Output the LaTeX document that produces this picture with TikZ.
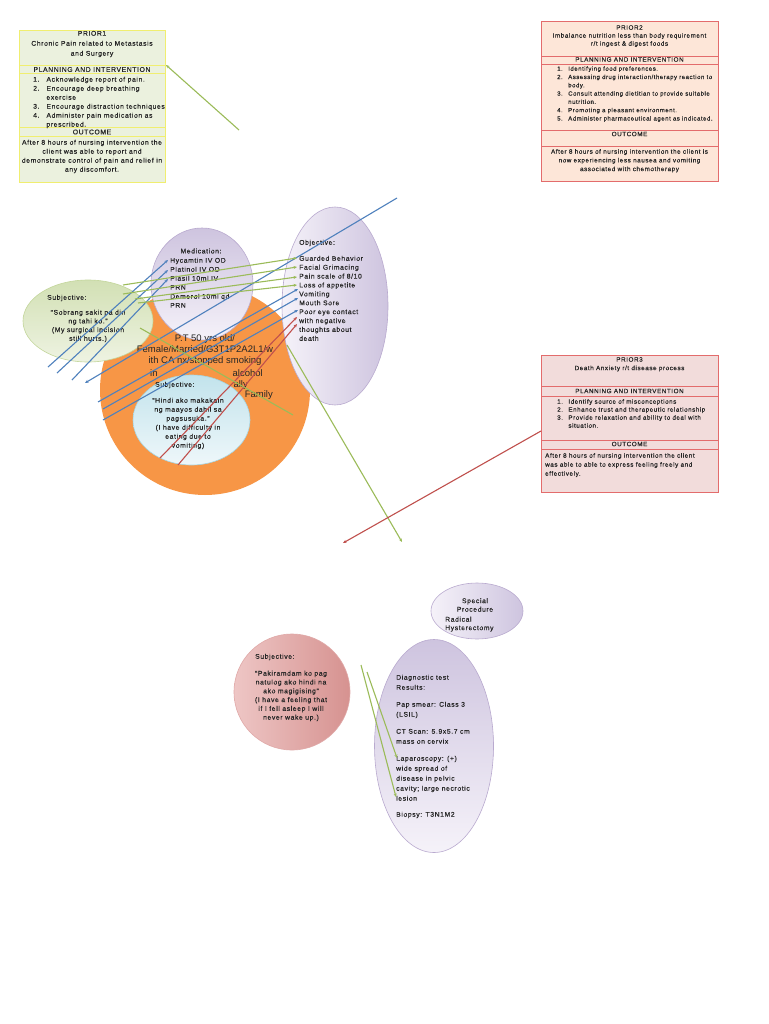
\documentclass[tikz,border=0pt]{standalone}
\usepackage{fontspec}
\setmainfont[LetterSpace=9, FakeBold=0.4]{Liberation Sans}
\newfontfamily\corefont{Liberation Sans}
\usetikzlibrary{shapes.geometric,arrows.meta}
\definecolor{txt}{HTML}{262626}
\definecolor{pOneFill}{HTML}{EBF1DE}
\definecolor{pOneLine}{HTML}{F0EE70}
\definecolor{pTwoFill}{HTML}{FDE6D8}
\definecolor{pThreeFill}{HTML}{F2DCDB}
\definecolor{redLine}{HTML}{E36C6C}
\definecolor{orangeF}{HTML}{F79646}
\definecolor{lavA}{HTML}{F5F2F9}
\definecolor{lavB}{HTML}{CEC4DF}
\definecolor{lavEdge}{HTML}{B9AACF}
\definecolor{grnA}{HTML}{D2E0B4}
\definecolor{grnB}{HTML}{EEF3E2}
\definecolor{grnEdge}{HTML}{C3D69B}
\definecolor{bluA}{HTML}{C2E3EC}
\definecolor{bluB}{HTML}{EEF7FA}
\definecolor{bluEdge}{HTML}{A5D5E2}
\definecolor{pnkA}{HTML}{EEC6C5}
\definecolor{pnkB}{HTML}{D69290}
\definecolor{pnkEdge}{HTML}{E0A9A8}
\definecolor{cBlue}{HTML}{4F81BD}
\definecolor{cGreen}{HTML}{9BBB59}
\definecolor{cRed}{HTML}{C0504D}
\newcommand\tabC[1]{\begin{tabular}{@{}c@{}}#1\end{tabular}}
\newcommand\tabL[1]{\begin{tabular}{@{}l@{}}#1\end{tabular}}
\begin{document}
\begin{tikzpicture}[x=1pt,y=-1pt,
  tx/.style={inner sep=0pt, text=txt},
  fa/.style={font=\fontsize{6.8}{9}\selectfont},
  fb/.style={font=\fontsize{6.3}{8.3}\selectfont},
  boxone/.style={anchor=north west, inner sep=0pt, fill=pOneFill, draw=pOneLine, line width=0.9pt},
  boxtwo/.style={anchor=north west, inner sep=0pt, fill=pTwoFill, draw=redLine, line width=0.9pt},
  boxthree/.style={anchor=north west, inner sep=0pt, fill=pThreeFill, draw=redLine, line width=0.9pt},
  lav/.style={ellipse, inner sep=0pt, top color=lavB, bottom color=lavA, draw=lavEdge, line width=0.6pt},
  lavh/.style={ellipse, inner sep=0pt, left color=lavA, right color=lavB, draw=lavEdge, line width=0.6pt},
  conB/.style={draw=cBlue, line width=1.1pt},
  conG/.style={draw=cGreen, line width=1.1pt},
  conR/.style={draw=cRed, line width=1.1pt},
  arr/.style={-{Stealth[length=3.5pt,width=3pt]}},
]
\fill[white] (0,0) rectangle (768,1024);
\useasboundingbox (0,0) rectangle (768,1024);

% ---------------- PRIOR1 ----------------
\node[boxone, minimum width=146, minimum height=152] (p1) at (19,30) {};
\foreach \yy in {65,73,127,136} \draw[pOneLine, line width=0.9pt] (19,\yy) -- (165,\yy);
\node[tx, anchor=north, font=\fontsize{6.8}{10}\selectfont] (p1head) at (92,28.5) {\tabC{PRIOR1\\Chronic Pain related to Metastasis\\and Surgery}};
\node[tx, fa] (p1plan) at (92,69.5) {PLANNING AND INTERVENTION};
\node[tx, fa, anchor=north west] (p1list) at (33,75.2) {\begin{tabular}{@{}l@{\hspace{7pt}}l@{}}
1.&Acknowledge report of pain.\\
2.&Encourage deep breathing\\
&exercise\\
3.&Encourage distraction techniques\\
4.&Administer pain medication as\\
&prescribed.\end{tabular}};
\node[tx, fa] (p1out) at (92,132) {OUTCOME};
\node[tx, fa, anchor=north] (p1outtxt) at (92,138.2) {\tabC{After 8 hours of nursing intervention the\\client was able to report and\\demonstrate control of pain and relief in\\any discomfort.}};

% ---------------- PRIOR2 ----------------
\node[boxtwo, minimum width=177, minimum height=160] (p2) at (541,21) {};
\foreach \yy in {56,64,130,146} \draw[redLine, line width=0.9pt] (541,\yy) -- (718,\yy);
\node[tx, anchor=north, font=\fontsize{6.3}{8}\selectfont] (p2head) at (629.5,23.9) {\tabC{PRIOR2\\Imbalance nutrition less than body requirement\\r/t ingest \& digest foods}};
\node[tx, fb] (p2plan) at (629.5,59.5) {PLANNING AND INTERVENTION};
\node[tx, anchor=north west, font=\fontsize{6.0}{8.3}\selectfont] (p2list) at (557,64.7) {\begin{tabular}{@{}l@{\hspace{5.5pt}}l@{}}
1.&Identifying food preferences.\\
2.&Assessing drug interaction/therapy reaction to\\
&body.\\
3.&Consult attending dietitian to provide suitable\\
&nutrition.\\
4.&Promoting a pleasant environment.\\
5.&Administer pharmaceutical agent as indicated.\end{tabular}};
\node[tx, fb] (p2out) at (629.5,134) {OUTCOME};
\node[tx, anchor=north, font=\fontsize{6.3}{8.7}\selectfont] (p2outtxt) at (629.5,147.4) {\tabC{After 8 hours of nursing intervention the client is\\now experiencing less nausea and vomiting\\associated with chemotherapy}};

% ---------------- PRIOR3 ----------------
\node[boxthree, minimum width=177, minimum height=137] (p3) at (541,355) {};
\foreach \yy in {386,396,440,449} \draw[redLine, line width=0.9pt] (541,\yy) -- (718,\yy);
\node[tx, anchor=north, font=\fontsize{6.3}{8.5}\selectfont] (p3head) at (629.5,355.5) {\tabC{PRIOR3\\Death Anxiety r/t disease process}};
\node[tx, fb] (p3plan) at (629.5,391) {PLANNING AND INTERVENTION};
\node[tx, anchor=north west, font=\fontsize{6.2}{8}\selectfont] (p3list) at (557,397.9) {\begin{tabular}{@{}l@{\hspace{5.5pt}}l@{}}
1.&Identify source of misconceptions\\
2.&Enhance trust and therapeutic relationship\\
3.&Provide relaxation and ability to deal with\\
&situation.\end{tabular}};
\node[tx, fb] (p3out) at (629.5,444) {OUTCOME};
\node[tx, anchor=north west, font=\fontsize{6.3}{9}\selectfont] (p3outtxt) at (545,451.2) {\tabL{After 8 hours of nursing intervention the client\\was able to able to express feeling freely and\\effectively.}};

% ---------------- central cluster ----------------
\node[circle, fill=orangeF, minimum size=210, inner sep=0pt] (core) at (205,390) {};
\node[lav, minimum width=102, minimum height=112] (med) at (202,284) {};
\node[lavh, minimum width=106, minimum height=198] (obj) at (335,306) {};
\node[ellipse, inner sep=0pt, top color=grnA, bottom color=grnB, draw=grnEdge, line width=0.6pt, minimum width=130, minimum height=82] (subA) at (88,321) {};

\node[tx, anchor=north, font=\corefont\fontsize{9.5}{11.3}\selectfont] (coretxt) at (205,333) {\tabC{P.T 50 yrs old/\\Female/Married/G3T1P2A2L1/w\\ith CA nx/stopped smoking}};
\node[tx, anchor=base west, font=\corefont\fontsize{9.5}{11.3}\selectfont] (coreIn) at (150,376) {in};
\node[tx, anchor=base east, font=\corefont\fontsize{9.5}{11.3}\selectfont] (coreAl) at (263,376) {alcohol};
\node[tx, anchor=base east, font=\corefont\fontsize{9.5}{11.3}\selectfont] (coreAy) at (248,387) {ally};
\node[tx, anchor=base east, font=\corefont\fontsize{9.5}{11.3}\selectfont] (coreFa) at (273,397.5) {Family};

\node[ellipse, inner sep=0pt, top color=bluA, bottom color=bluB, draw=bluEdge, line width=0.6pt, minimum width=117, minimum height=90] (subB) at (191.5,420) {};

% texts in ellipses
\node[tx, fa] (medT) at (201,251) {Medication:};
\node[tx, fa, anchor=north west] (medL) at (170,256.2) {\tabL{Hycamtin IV OD\\Platinol IV OD\\Plasil 10ml IV\\PRN\\Demerol 10ml qd\\PRN}};
\node[tx, fa, anchor=west] (objT) at (299,243) {Objective:};
\node[tx, anchor=north west, font=\fontsize{6.8}{8.9}\selectfont] (objL) at (299,254.3) {\tabL{Guarded Behavior\\Facial Grimacing\\Pain scale of 8/10\\Loss of appetite\\Vomiting\\Mouth Sore\\Poor eye contact\\with negative\\thoughts about\\death}};
\node[tx, fa, anchor=west] (subAT) at (47,298) {Subjective:};
\node[tx, anchor=north, font=\fontsize{6.8}{8.7}\selectfont] (subAQ) at (88,308.4) {\tabC{``Sobrang sakit pa din\\ng tahi ko.''\\(My surgical incision\\still hurts.)}};
\node[tx, fa, anchor=west] (subBT) at (155,385) {Subjective:};
\node[tx, fa, anchor=north] (subBQ) at (188,396.2) {\tabC{``Hindi ako makakain\\ng maayos dahil sa\\pagsusuka.''\\(I have difficulty in\\eating due to\\vomiting)}};

% ---------------- lower cluster ----------------
\node[lavh, minimum width=92, minimum height=56] (spec) at (477,611) {};
\node[circle, inner sep=0pt, left color=pnkA, right color=pnkB, draw=pnkEdge, line width=0.6pt, minimum size=116] (subC) at (292,692) {};
\node[ellipse, inner sep=0pt, top color=lavB, bottom color=lavA, draw=lavEdge, line width=0.6pt, minimum width=119, minimum height=213] (diag) at (434,746) {};

\node[tx, anchor=north, font=\fontsize{6.8}{8.5}\selectfont] (specT) at (475,597) {\tabC{Special\\Procedure}};
\node[tx, anchor=north west, font=\fontsize{6.8}{8.5}\selectfont] (specL) at (445,615.5) {\tabL{Radical\\Hysterectomy}};
\node[tx, fa, anchor=west] (subCT) at (255,657) {Subjective:};
\node[tx, anchor=north, font=\fontsize{6.8}{8.8}\selectfont] (subCQ) at (291,669.3) {\tabC{``Pakiramdam ko pag\\natulog ako hindi na\\ako magigising''\\(I have a feeling that\\if I fell asleep I will\\never wake up.)}};
\node[tx, anchor=north west, font=\fontsize{6.8}{10}\selectfont] (diagL) at (396,672.5) {\tabL{Diagnostic test\\Results:\\[7pt]Pap smear: Class 3\\(LSIL)\\[7pt]CT Scan: 5.9x5.7 cm\\mass on cervix\\[7pt]Laparoscopy: (+)\\wide spread of\\disease in pelvic\\cavity; large necrotic\\lesion\\[6pt]Biopsy: T3N1M2}};

% ---------------- connector ends ----------------
\coordinate (mHy) at (168,260);
\coordinate (mPl) at (168,270);
\coordinate (mPs) at (168,279);
\coordinate (b2s) at (48,367);
\coordinate (b3s) at (57,373);
\coordinate (b4s) at (72,380);
\coordinate (b1s) at (397,198);
\coordinate (b1e) at (85,383);
\coordinate (oVo) at (298,289);
\coordinate (oMo) at (298,298);
\coordinate (oPo) at (298,310);
\coordinate (b5s) at (98,402);
\coordinate (b6s) at (103,409);
\coordinate (b7s) at (103,420);
\coordinate (oTa) at (297,317);
\coordinate (oTb) at (297,324);
\coordinate (r1s) at (160,458);
\coordinate (r2s) at (178,465);
\coordinate (g1s) at (123,285);
\coordinate (g2s) at (123,294);
\coordinate (g3s) at (135,299);
\coordinate (g4s) at (138,303);
\coordinate (oGu) at (297,258);
\coordinate (oFa) at (297,267);
\coordinate (oPa) at (297,277);
\coordinate (oLo) at (297,285);
\coordinate (g5s) at (140,328);
\coordinate (g5e) at (293,415);
\coordinate (g6s) at (287,345);
\coordinate (g6e) at (402,542);
\coordinate (r3s) at (541,431);
\coordinate (r3e) at (343,543);
\coordinate (g7s) at (239,130);
\coordinate (g7e) at (166,65);
\coordinate (g8s) at (361,665);
\coordinate (dLe) at (396,797);
\coordinate (g9s) at (367,672);
\coordinate (dLa) at (397,758);

% ---------------- connectors ----------------
\draw[conB, arr] (b1s) -- (b1e);
\draw[conB, arr] (b2s) -- (mHy);
\draw[conB, arr] (b3s) -- (mPl);
\draw[conB, arr] (b4s) -- (mPs);
\draw[conB, arr] (b5s) -- (oVo);
\draw[conB, arr] (b6s) -- (oMo);
\draw[conB, arr] (b7s) -- (oPo);
\draw[conR, arr] (r1s) -- (oTa);
\draw[conR, arr] (r2s) -- (oTb);
\draw[conG, arr] (g1s) -- (oGu);
\draw[conG, arr] (g2s) -- (oFa);
\draw[conG, arr] (g3s) -- (oPa);
\draw[conG, arr] (g4s) -- (oLo);
\draw[conG] (g5s) -- (g5e);
\draw[conG, arr] (g6s) -- (g6e);
\draw[conR, arr] (r3s) -- (r3e);
\draw[conG, arr] (g7s) -- (g7e);
\draw[conG, arr] (g8s) -- (dLe);
\draw[conG, arr] (g9s) -- (dLa);
\end{tikzpicture}
\end{document}
